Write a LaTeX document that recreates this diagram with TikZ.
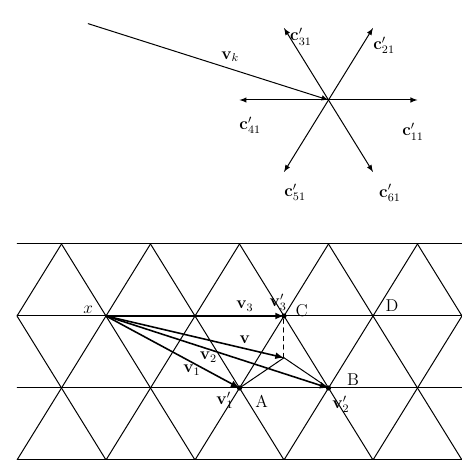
\documentclass[tikz,border=0pt]{standalone}
\begin{document}
\begin{tikzpicture}[x=31.15pt,y=50.4pt,line cap=round,line width=0.7pt,font=\large]
        \useasboundingbox (-0.382,-0.194) rectangle (10.27,6.389);
        %% Directions
        \coordinate (O) at (7,5);
        \draw[-latex] (O) -- (9,5) coordinate (c11);
        \draw[-latex] (O) -- (8,6) coordinate (c21);
        \draw[-latex] (O) -- (6,6) coordinate (c31);
        \draw[-latex] (O) -- (5,5) coordinate (c41);
        \draw[-latex] (O) -- (6,4) coordinate (c51);
        \draw[-latex] (O) -- (8,4) coordinate (c61);
        \coordinate (vk) at (1.6,6.06);
        \draw[-latex] (vk) -- (O);
        %% Labels
        \node (lk) at (4.79,5.6) {$\mathbf{v}_k$};
        \node (l11) at (8.9,4.56) {$\mathbf{c}'_{11}$};
        \node (l21) at (8.25,5.76) {$\mathbf{c}'_{21}$};
        \node (l31) at (6.38,5.88) {$\mathbf{c}'_{31}$};
        \node (l41) at (5.24,4.65) {$\mathbf{c}'_{41}$};
        \node (l51) at (6.25,3.72) {$\mathbf{c}'_{51}$};
        \node (l61) at (8.38,3.71) {$\mathbf{c}'_{61}$};
        %% Lattice
        \begin{scope}
            \clip (0,0) rectangle (10,3);
            \foreach \y in {0,1,2,3} \draw (0,\y) -- (10,\y);
            \foreach \c in {2,4,...,12} \draw (\c-3,3) -- (\c,0);
            \foreach \c in {-2,0,...,8} \draw (\c,0) -- (\c+3,3);
        \end{scope}
        %% Points
        \coordinate (x) at (2,2);
        \coordinate (A) at (5,1);
        \coordinate (B) at (7,1);
        \coordinate (C) at (6,2);
        \coordinate (D) at (8,2);
        \coordinate (P) at (6,1.42);
        \fill (A) circle (1.8pt);
        \fill (B) circle (1.8pt);
        \fill (C) circle (1.8pt);
        %% Vectors
        \draw[line width=1.1pt,-latex] (x) -- (C);
        \draw[line width=1.1pt,-latex] (x) -- (P);
        \draw[line width=1.1pt,-latex] (x) -- (B);
        \draw[line width=1.1pt,-latex] (x) -- (A);
        \draw (A) -- (P) -- (B);
        \draw[dashed] (P) -- (C);
        %% Names
        \node (xl) at (1.6,2.08) {$x$};
        \node (v3) at (5.12,2.14) {$\mathbf{v}_3$};
        \node (v3p) at (5.87,2.19) {$\mathbf{v}'_3$};
        \node (Cl) at (6.4,2.08) {C};
        \node (Dl) at (8.43,2.15) {D};
        \node (v) at (5.12,1.67) {$\mathbf{v}$};
        \node (v2) at (4.3,1.43) {$\mathbf{v}_2$};
        \node (v1) at (3.93,1.25) {$\mathbf{v}_1$};
        \node (v1p) at (4.67,0.83) {$\mathbf{v}'_1$};
        \node (Al) at (5.5,0.81) {A};
        \node (Bl) at (7.55,1.12) {B};
        \node (v2p) at (7.28,0.77) {$\mathbf{v}'_2$};
    \end{tikzpicture}
\end{document}
